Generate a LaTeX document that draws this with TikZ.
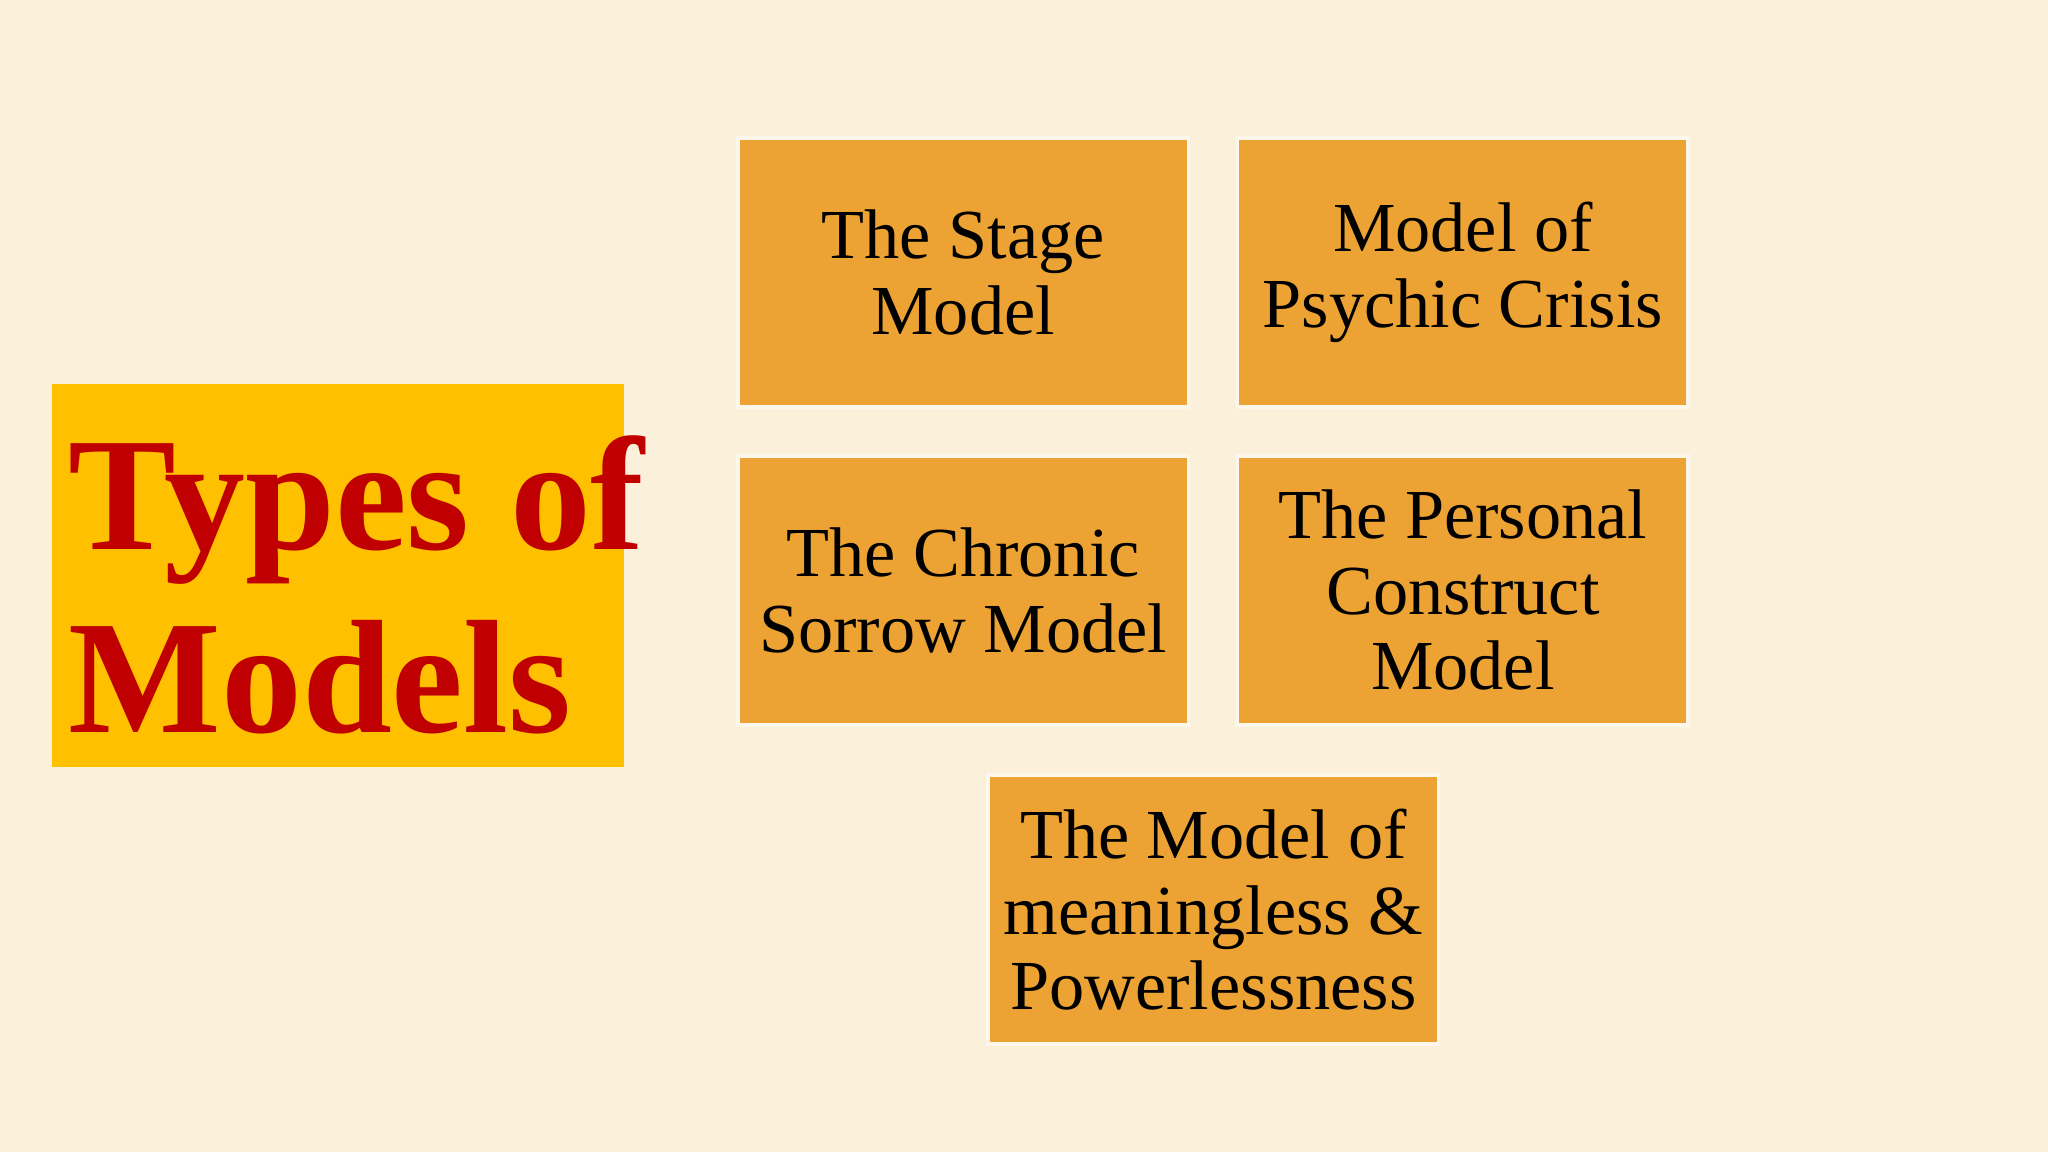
\documentclass[tikz,border=0pt]{standalone}
\usepackage{fontspec}
\setmainfont{Liberation Serif}
\definecolor{bg}{HTML}{FBF0D9}
\definecolor{tbox}{HTML}{FFC000}
\definecolor{tred}{HTML}{C00000}
\definecolor{obox}{HTML}{EDA333}
\tikzset{
 mbox/.style={draw=white!90!obox, line width=1pt, fill=obox, minimum width=345*0.013061cm, minimum height=206*0.013061cm, align=center, font=\fontsize{20}{21.5}\selectfont, text=black, inner sep=0pt},
}
\begin{document}
\begin{tikzpicture}[x=0.013061cm,y=-0.013061cm]
\fill[bg] (0,0) rectangle (1568,882);
\useasboundingbox (0,0) rectangle (1568,882);
\node[fill=tbox, minimum width=438*0.013061cm, minimum height=293*0.013061cm, inner sep=0pt] (title) at (259,440.5) {};
\node[anchor=west, align=left, text=tred, font=\bfseries\fontsize{46}{52}\selectfont, inner sep=0pt] (tt) at (52,448) {Types of\\Models};
\node[mbox] (a) at (737.5,208.5) {The Stage\\Model};
\node[mbox] (b) at (1120,208.5) {Model of\\Psychic Crisis};
\node[mbox] (c) at (737.5,452) {The Chronic\\Sorrow Model};
\node[mbox] (d) at (1120,452) {The Personal\\Construct\\Model};
\node[mbox] (e) at (929,696.5) {The Model of\\meaningless \&\\Powerlessness};
\end{tikzpicture}
\end{document}
